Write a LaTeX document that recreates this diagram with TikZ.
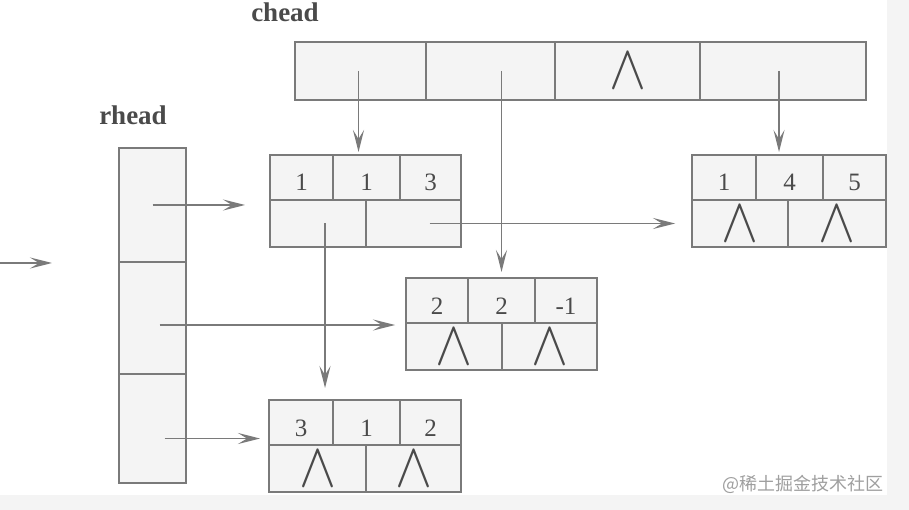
\documentclass[tikz,border=0pt]{standalone}
\usepackage{graphicx}
\usepackage{fontspec}
\setmainfont{Liberation Serif}
\newfontfamily\cjk{Noto Sans CJK SC}
\usepackage{tikz}
\usetikzlibrary{arrows.meta,positioning}
\definecolor{linegray}{HTML}{7A7A7A}
\definecolor{cellgray}{HTML}{F4F4F4}
\definecolor{textgray}{HTML}{4A4A4A}
\definecolor{stripgray}{HTML}{F4F4F4}
\newcommand{\nil}{\resizebox{37pt}{35pt}{$\wedge$}}

\begin{document}
\begin{tikzpicture}[x=1pt,y=-1pt,>={Stealth[length=22pt,width=11pt,inset=9pt]},
		font=\fontsize{25}{25}\selectfont]
		\tikzstyle{cell}=[draw=linegray,fill=cellgray,line width=1.5pt,inner sep=0pt,
		outer sep=0pt,minimum height=45pt,text=textgray]
		\tikzstyle{num}=[cell,text height=27pt,text depth=0pt]
		\tikzstyle{low}=[cell,minimum height=47pt]
		\tikzstyle{hcell}=[cell,minimum height=58pt]
		\tikzstyle{ptr}=[->,draw=linegray,line width=1.4pt]
		\tikzstyle{title}=[text=textgray,font=\fontsize{27}{27}\selectfont\bfseries]
		
		% page background
		\fill[white] (0,0) rectangle (909,510);
		\fill[stripgray] (887,0) rectangle (909,510);
		\fill[stripgray] (0,495) rectangle (909,510);
		\useasboundingbox (0,0) rectangle (909,510);
		
		\node[title] (chead) at (285,12) {chead};
		\node[title] (rhead) at (133,115) {rhead};
		
		% column heads
		\node[hcell,minimum width=131pt,anchor=north west] (c1) at (295,42) {};
		\node[hcell,minimum width=129pt,right=0pt of c1] (c2) {};
		\node[hcell,minimum width=145pt,right=0pt of c2] (c3) {\nil};
		\node[hcell,minimum width=166pt,right=0pt of c3] (c4) {};
		
		% row heads
		\node[cell,minimum width=67pt,minimum height=114pt,anchor=north west] (r1) at (119,148) {};
		\node[cell,minimum width=67pt,minimum height=112pt,below=0pt of r1] (r2) {};
		\node[cell,minimum width=67pt,minimum height=109pt,below=0pt of r2] (r3) {};
		
		% (1,1,3)
		\node[num,minimum width=63pt,anchor=north west] (a1) at (270,155) {1};
		\node[num,minimum width=67pt,right=0pt of a1] (a2) {1};
		\node[num,minimum width=61pt,right=0pt of a2] (a3) {3};
		\node[low,minimum width=96pt,below right=0pt of a1.south west] (a4) {};
		\node[low,minimum width=95pt,right=0pt of a4] (a5) {};
		
		% (1,4,5)
		\node[num,minimum width=64pt,anchor=north west] (b1) at (692,155) {1};
		\node[num,minimum width=67pt,right=0pt of b1] (b2) {4};
		\node[num,minimum width=63pt,right=0pt of b2] (b3) {5};
		\node[low,minimum width=96pt,below right=0pt of b1.south west] (b4) {\nil};
		\node[low,minimum width=98pt,right=0pt of b4] (b5) {\nil};
		
		% (2,2,-1)
		\node[num,minimum width=62pt,anchor=north west] (k1) at (406,278) {2};
		\node[num,minimum width=67pt,right=0pt of k1] (k2) {2};
		\node[num,minimum width=62pt,right=0pt of k2] (k3) {-1};
		\node[low,minimum width=96pt,below right=0pt of k1.south west] (k4) {\nil};
		\node[low,minimum width=95pt,right=0pt of k4] (k5) {\nil};
		
		% (3,1,2)
		\node[num,minimum width=64pt,anchor=north west] (d1) at (269,400) {3};
		\node[num,minimum width=67pt,right=0pt of d1] (d2) {1};
		\node[num,minimum width=61pt,right=0pt of d2] (d3) {2};
		\node[low,minimum width=97pt,below right=0pt of d1.south west] (d4) {\nil};
		\node[low,minimum width=95pt,right=0pt of d4] (d5) {\nil};
		
		\coordinate (entry) at (0,263);
		\coordinate (entryend) at (52,263);
		
		\draw[ptr] (entry) -- (entryend);
		\draw[ptr,shorten >=3pt] ([xshift=-2pt]c1.center) -- ([xshift=-2pt]c1.center |- a2.north);
		\draw[ptr,shorten >=6pt] (k2.north |- c2.center) -- (k2.north);
		\draw[ptr,shorten >=3pt] ([xshift=-4pt]c4.center) -- ([xshift=-4pt]c4.center |- b2.north);
		\draw[ptr,shorten >=25pt] (r1.center) -- (r1.center -| a1.west);
		\draw[ptr,shorten >=11pt] ([xshift=7pt,yshift=-7pt]r2.center) -- ([yshift=-7pt]r2.center -| k1.west);
		\draw[ptr,shorten >=9pt] ([xshift=12pt,yshift=-10pt]r3.center) -- ([yshift=-10pt]r3.center -| d1.west);
		\draw[ptr,shorten >=12pt] ([xshift=7pt]a4.center) -- ([xshift=7pt]a4.center |- d1.north);
		\draw[ptr,shorten >=17pt] ([xshift=16pt]a5.center) -- (a5.center -| b4.west);
		
		\node[font=\cjk\fontsize{18}{18}\selectfont,text=gray!75,anchor=east] (mark) at (887,484) {@稀土掘金技术社区};
\end{tikzpicture}
\end{document}
